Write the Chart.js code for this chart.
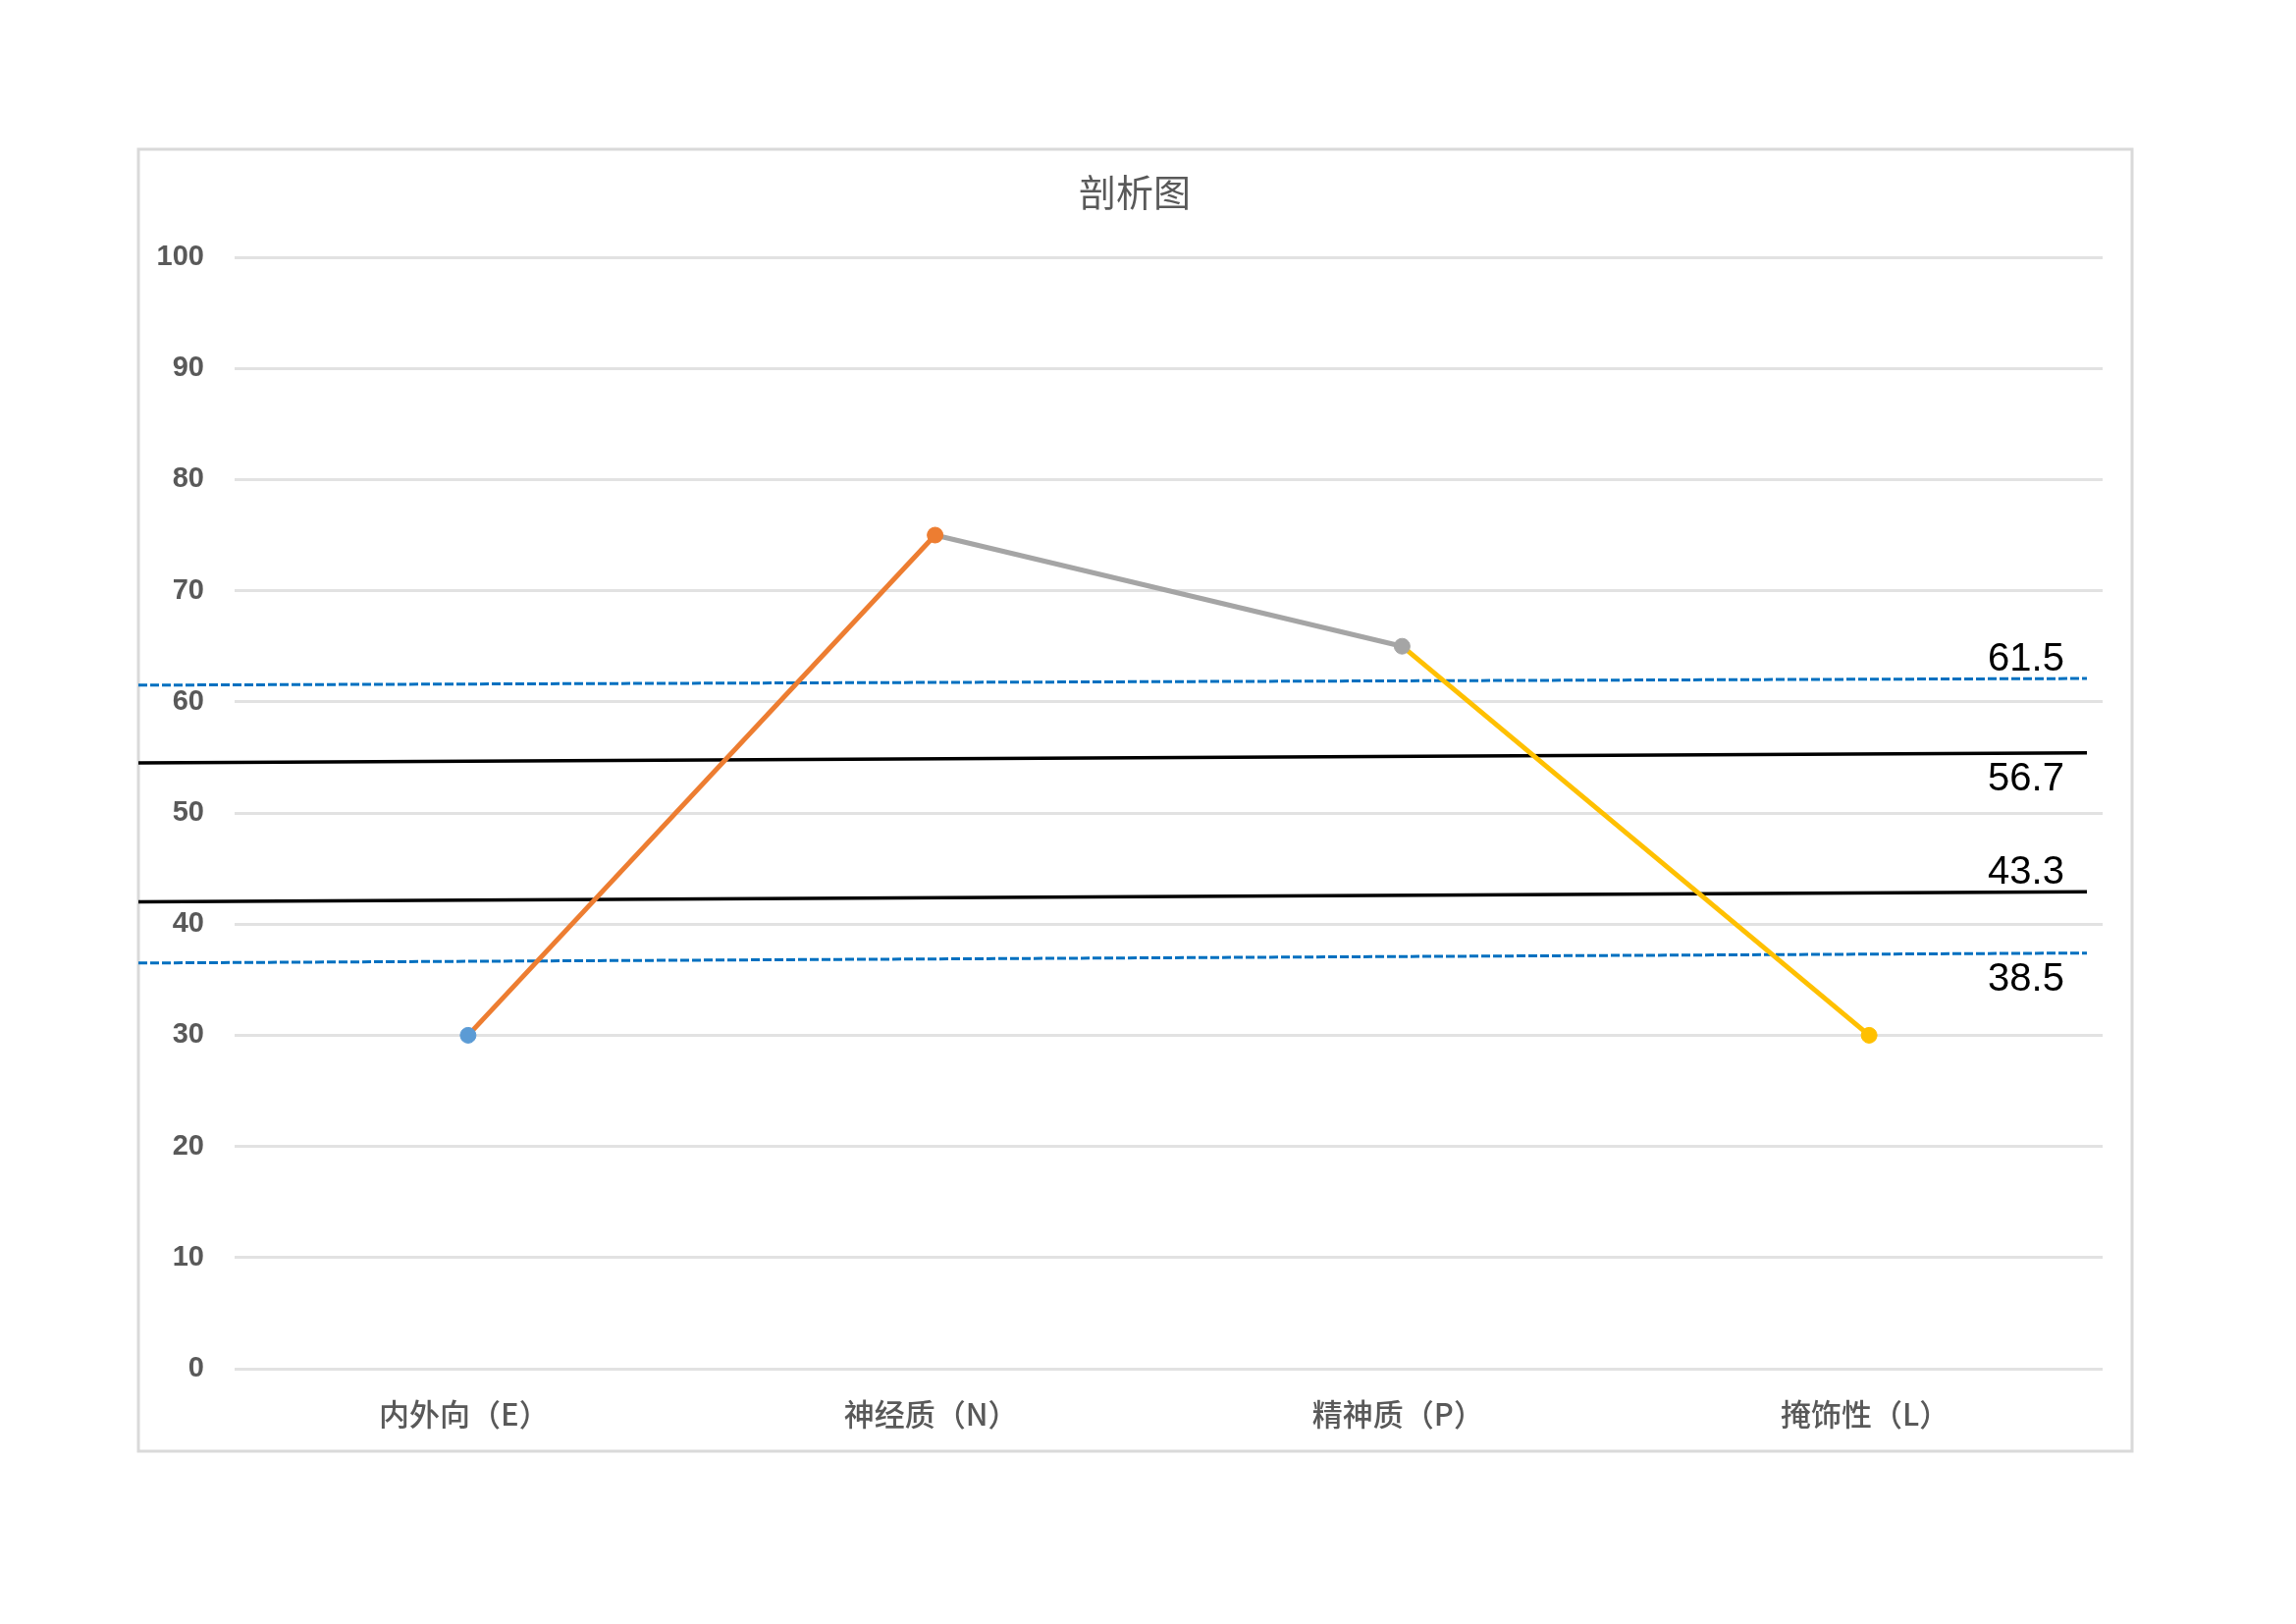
<!DOCTYPE html>
<html lang="zh-CN">
  <head>
    <meta charset="UTF-8" />
    <title>剖析图</title>
    <style>
      html, body { margin: 0; padding: 0; background: #ffffff; }
      canvas { display: block; }
    </style>
    <script src="https://cdn.jsdelivr.net/npm/chart.js"></script>
  </head>
  <body>
    <canvas id="chart" width="2339" height="1654"></canvas>
    <script>
      // chart data
      const categories = ["内外向（E）", "神经质（N）", "精神质（P）", "掩饰性（L）"];
      const scores = [30, 75, 65, 30];
      const pointColors = ["#5B9BD5", "#ED7D31", "#A5A5A5", "#FFC000"];
      const yTicks = [0, 10, 20, 30, 40, 50, 60, 70, 80, 90, 100];

      // hand drawn reference lines: label, value at left end, value at right end
      const refLabels = ["61.5", "56.7", "43.3", "38.5"];
      const refStart = [61.5, 54.5, 42.0, 36.5];
      const refEnd = [62.1, 55.4, 42.9, 37.4];

      const titleText = "剖析图";

      // frame, title and the reference lines
      const decor = {
        id: "decor",
        beforeDraw(chart) {
          const ctx = chart.ctx;
          ctx.save();
          ctx.strokeStyle = "#d9d9d9";
          ctx.lineWidth = 3;
          ctx.strokeRect(141, 152, 2031, 1326);
          ctx.fillStyle = "#595959";
          ctx.font = '38px "Noto Sans CJK SC"';
          ctx.textAlign = "center";
          ctx.textBaseline = "middle";
          ctx.fillText(titleText, 1156, 196);
          ctx.restore();
        },
        beforeDatasetsDraw(chart) {
          const ctx = chart.ctx;
          const y = chart.scales.y;
          const x0 = 141;
          const x1 = chart.chartArea.right - 16;
          ctx.save();
          refLabels.forEach((label, i) => {
            const dashed = i === 0 || i === 3;
            const ya = y.getPixelForValue(refStart[i]);
            const yb = y.getPixelForValue(refEnd[i]);
            ctx.beginPath();
            ctx.strokeStyle = dashed ? "#0070C0" : "#000000";
            ctx.lineWidth = dashed ? 3 : 3.5;
            ctx.setLineDash(dashed ? [9, 3] : []);
            ctx.moveTo(x0, ya);
            ctx.lineTo(x1, yb);
            ctx.stroke();
            ctx.setLineDash([]);
            ctx.fillStyle = "#000000";
            ctx.font = '40px "Liberation Sans"';
            ctx.textAlign = "center";
            const below = i % 2 === 1;
            ctx.textBaseline = below ? "top" : "alphabetic";
            ctx.fillText(label, 2064, below ? yb + 7 : yb - 8);
          });
          ctx.restore();
        },
      };

      new Chart(document.getElementById("chart"), {
        type: "line",
        data: {
          labels: categories,
          datasets: [
            {
              data: scores,
              borderWidth: 5,
              pointRadius: 8,
              pointBorderWidth: 1,
              pointBackgroundColor: pointColors,
              pointBorderColor: pointColors,
              segment: {
                borderColor: (c) => pointColors[c.p1DataIndex],
              },
            },
          ],
        },
        options: {
          responsive: false,
          devicePixelRatio: 1,
          animation: false,
          layout: { padding: { left: 140, right: 197, top: 262, bottom: 0 } },
          plugins: {
            legend: { display: false },
            title: { display: false },
            tooltip: { enabled: false },
          },
          scales: {
            x: {
              offset: true,
              grid: { display: false },
              border: { display: false },
              ticks: {
                color: "#595959",
                font: { family: "Noto Sans CJK SC", size: 31, weight: "500" },
                padding: 20,
                labelOffset: -4,
                maxRotation: 0,
              },
              afterFit: (s) => { s.height = 260; },
            },
            y: {
              min: 0,
              max: 100,
              afterBuildTicks: (s) => { s.ticks = yTicks.map((v) => ({ value: v })); },
              grid: { color: "#e2e2e2", lineWidth: 3, drawTicks: false },
              border: { display: false },
              ticks: {
                color: "#595959",
                font: { family: "Liberation Sans", size: 29, weight: "bold" },
                padding: 31,
              },
              afterFit: (s) => { s.width = 99; },
            },
          },
        },
        plugins: [decor],
      });
    </script>
  </body>
</html>
